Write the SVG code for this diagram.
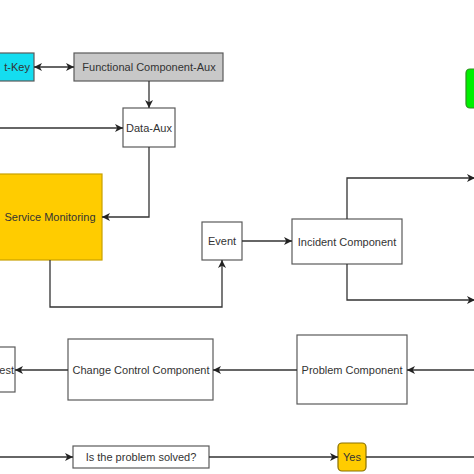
<svg xmlns="http://www.w3.org/2000/svg" width="474" height="474" viewBox="0 0 474 474">
<defs>
<marker id="ah" markerUnits="userSpaceOnUse" markerWidth="10" markerHeight="10" refX="8" refY="4" orient="auto-start-reverse" viewBox="0 0 10 8">
<path d="M0,0 L8,4 L0,8 L2.2,4 z" fill="#222"/>
</marker>
<style>
.box{stroke:#5a5a5a;stroke-width:1.2;fill:#fff}
.t{font-family:"Liberation Sans",Arial,sans-serif;font-size:11px;fill:#333;text-anchor:middle;dominant-baseline:central}
.c{fill:none;stroke:#333;stroke-width:1.3}
</style>
</defs>
<rect width="474" height="474" fill="#fff"/>

<g id="key">
<rect x="-5" y="53" width="39" height="28" class="box" style="fill:#14DDF0"/>
<text x="30" y="67" class="t" style="text-anchor:end">t-Key</text>
</g>
<g id="functional-aux">
<rect x="74" y="53" width="149" height="28" class="box" style="fill:#C8C8C8"/>
<text x="149" y="67" class="t">Functional Component-Aux</text>
</g>
<g id="data-aux">
<rect x="123" y="108" width="52" height="39" class="box"/>
<text x="149" y="128" class="t">Data-Aux</text>
</g>
<g id="green">
<rect x="466" y="69" width="20" height="39" rx="4" ry="4" class="box" style="fill:#00F000;stroke:#2F8F20"/>
</g>
<g id="service-monitoring">
<rect x="-3" y="174" width="105" height="86" class="box" style="fill:#FFCC00;stroke:#C9A100"/>
<text x="50" y="217" class="t">Service Monitoring</text>
</g>
<g id="event">
<rect x="202" y="222" width="40" height="38" class="box"/>
<text x="222" y="241" class="t">Event</text>
</g>
<g id="incident">
<rect x="292" y="219" width="110" height="45" class="box"/>
<text x="347" y="241.5" class="t">Incident Component</text>
</g>
<g id="request">
<rect x="-10" y="347" width="25" height="45" class="box"/>
<text x="14" y="370" class="t" style="text-anchor:end">est</text>
</g>
<g id="change-control">
<rect x="68" y="339" width="145" height="61" class="box"/>
<text x="141" y="370" class="t">Change Control Component</text>
</g>
<g id="problem">
<rect x="297" y="335" width="110" height="69" class="box"/>
<text x="352" y="370" class="t">Problem Component</text>
</g>
<g id="solved">
<rect x="73" y="446" width="136" height="22" class="box"/>
<text x="141" y="457" class="t">Is the problem solved?</text>
</g>
<g id="yes">
<rect x="338" y="443" width="28" height="28" rx="4" ry="4" class="box" style="fill:#FFCC00;stroke:#8a7000"/>
<text x="352" y="457" class="t">Yes</text>
</g>

<g id="connectors">
<path class="c" d="M34,67 L74,67" marker-start="url(#ah)" marker-end="url(#ah)"/>
<path class="c" d="M149,81 L149,108" marker-end="url(#ah)"/>
<path class="c" d="M0,128 L123,128" marker-end="url(#ah)"/>
<path class="c" d="M149,147 L149,217 L102,217" marker-end="url(#ah)"/>
<path class="c" d="M50,260 L50,307 L222,307 L222,260" marker-end="url(#ah)"/>
<path class="c" d="M242,241 L292,241" marker-end="url(#ah)"/>
<path class="c" d="M347,219 L347,178 L475,178" marker-end="url(#ah)"/>
<path class="c" d="M347,264 L347,300 L475,300" marker-end="url(#ah)"/>
<path class="c" d="M474,370 L407,370" marker-end="url(#ah)"/>
<path class="c" d="M297,370 L213,370" marker-end="url(#ah)"/>
<path class="c" d="M68,370 L15,370" marker-end="url(#ah)"/>
<path class="c" d="M0,457 L73,457" marker-end="url(#ah)"/>
<path class="c" d="M209,457 L338,457" marker-end="url(#ah)"/>
<path class="c" d="M366,457 L474,457"/>
</g>
</svg>
